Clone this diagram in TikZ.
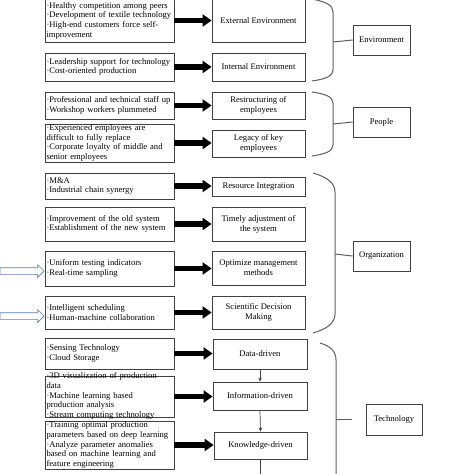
\documentclass[tikz,border=0pt]{standalone}
\usepackage{fontspec}
\setmainfont{Liberation Serif}
\usetikzlibrary{arrows.meta,shapes.arrows}
\definecolor{boxline}{HTML}{404040}
\definecolor{hollowblue}{HTML}{5A7DB5}
\tikzset{
  lbox/.style={draw=boxline, line width=0.8pt, minimum width=129pt, text width=126pt, inner xsep=1.5pt, inner ysep=0pt, align=left, font=\fontsize{8.6}{9.7}\selectfont},
  mbox/.style={draw=boxline, line width=0.8pt, minimum width=93pt, inner sep=0pt, align=center, font=\fontsize{8.6}{10}\selectfont},
  cbox/.style={draw=boxline, line width=0.8pt, minimum width=57pt, minimum height=30pt, inner sep=0pt, align=center, font=\fontsize{8.6}{10}\selectfont},
  fatarrow/.style={black, line width=5.5pt, -{Triangle[length=9pt,width=12pt]}},
  thinarrow/.style={boxline, line width=0.7pt, -{Stealth[length=4pt,width=3.5pt]}},
  brace/.style={draw=boxline!85, line width=1pt},
  hollow/.style={single arrow, draw=hollowblue, line width=0.7pt, fill=white, inner xsep=0pt, inner ysep=3pt, single arrow head extend=3pt, single arrow head indent=0pt, minimum height=44pt, anchor=east},
}
\begin{document}
\begin{tikzpicture}[x=1pt,y=-1pt]
\useasboundingbox (0,0) rectangle (474,474);
\clip (0,0) rectangle (474,474);
% left boxes
\node[lbox, minimum height=44pt] (b1) at (109.5,20.5) {·Healthy competition among peers\\·Development of textile technology\\·High-end customers force self-\\improvement};
\node[lbox, minimum height=28pt] (b2) at (109.5,67) {·Leadership support for technology\\·Cost-oriented production};
\node[lbox, minimum height=27pt] (b3) at (109.5,105.5) {·Professional and technical staff up\\·Workshop workers plummeted};
\node[lbox, minimum height=38pt] (b4) at (109.5,143) {·Experienced employees are\\difficult to fully replace\\·Corporate loyalty of middle and\\senior employees};
\node[lbox, minimum height=26pt] (b5) at (109.5,186) {·M\&A\\·Industrial chain synergy};
\node[lbox, minimum height=34pt] (b6) at (109.5,224) {·Improvement of the old system\\·Establishment of the new system};
\node[lbox, minimum height=35pt] (b7) at (109.5,268.5) {·Uniform testing indicators\\·Real-time sampling};
\node[lbox, minimum height=33pt] (b8) at (109.5,312.5) {·Intelligent scheduling\\·Human-machine collaboration};
\node[lbox, minimum height=31pt] (b9) at (109.5,353.5) {·Sensing Technology\\·Cloud Storage};
\node[lbox, minimum height=41pt] (b10) at (109.5,396.5) {};
\node[lbox, draw=none, minimum height=0pt] (t10) at (109.5,396) {·3D visualization of production\\data\\·Machine learning based\\production analysis\\·Stream computing technology};
\node[lbox, minimum height=48pt] (b11) at (109.5,445) {·Training optimal production\\parameters based on deep learning\\·Analyze parameter anomalies\\based on machine learning and\\feature engineering};
% middle boxes
\node[mbox, minimum height=44pt] (m1) at (258.5,20.5) {External Environment};
\node[mbox, minimum height=28pt] (m2) at (258.5,67) {Internal Environment};
\node[mbox, minimum height=27pt] (m3) at (258.5,105.5) {Restructuring of\\employees};
\node[mbox, minimum height=27pt] (m4) at (258.5,143.5) {Legacy of key\\employees};
\node[mbox, minimum height=19pt] (m5) at (258.5,186.5) {Resource Integration};
\node[mbox, minimum height=34pt] (m6) at (258.5,224) {Timely adjustment of\\the system};
\node[mbox, minimum height=34pt] (m7) at (258.5,268) {Optimize management\\methods};
\node[mbox, minimum height=33pt] (m8) at (258.5,312.5) {Scientific Decision\\Making};
\node[mbox, minimum width=94pt, minimum height=30pt] (m9) at (260,354) {Data-driven};
\node[mbox, minimum width=94pt, minimum height=28pt] (m10) at (260,396) {Information-driven};
\node[mbox, minimum width=93pt, minimum height=27pt] (m11) at (260.5,445.5) {Knowledge-driven};
% category boxes
\node[cbox] (env) at (381.5,40) {Environment};
\node[cbox] (ppl) at (381.5,122) {People};
\node[cbox] (org) at (381.5,256) {Organization};
\node[cbox, minimum width=56pt, minimum height=31pt] (tec) at (394,419.5) {Technology};
% fat arrows
\foreach \i in {1,...,11} {
  \draw[fatarrow] (b\i.east) -- (b\i.east -| m\i.west);
}
% hollow arrows
\node[hollow] (h1) at (44.5,271) {};
\node[hollow] (h2) at (44.5,316) {};
% vertical arrows
\draw[thinarrow] (m9.south) -- (m10.north);
\draw[thinarrow] (m10.south) -- (m11.north);
\coordinate (bot) at (260.5,480);
\draw[boxline, line width=0.7pt] (m11.south) -- (bot);
% braces
\coordinate (e1) at (333,42);
\coordinate (p1) at (333,124);
\coordinate (o1) at (335,254);
\coordinate (t1) at (336,419);
\coordinate (t2) at (352,419);
\draw[brace] (312,-1) .. controls (326,2) and (333,5) .. (333,12) -- (333,70) .. controls (333,76) and (326,79) .. (312,81);
\draw[brace] (312,92) .. controls (326,94) and (333,97) .. (333,103) -- (333,145) .. controls (333,151) and (326,154) .. (312,156);
\draw[brace] (313,173) .. controls (327,177) and (335,183) .. (335,192) -- (335,314) .. controls (335,323) and (327,329) .. (313,333);
\draw[brace] (320,343) .. controls (330,346) and (336,351) .. (336,360) -- (336,480);
\draw[brace] (e1) -- (env.west);
\draw[brace] (p1) -- (ppl.west);
\draw[brace] (o1) -- (org.west);
\draw[brace] (t1) -- (t2);
\end{tikzpicture}
\end{document}
